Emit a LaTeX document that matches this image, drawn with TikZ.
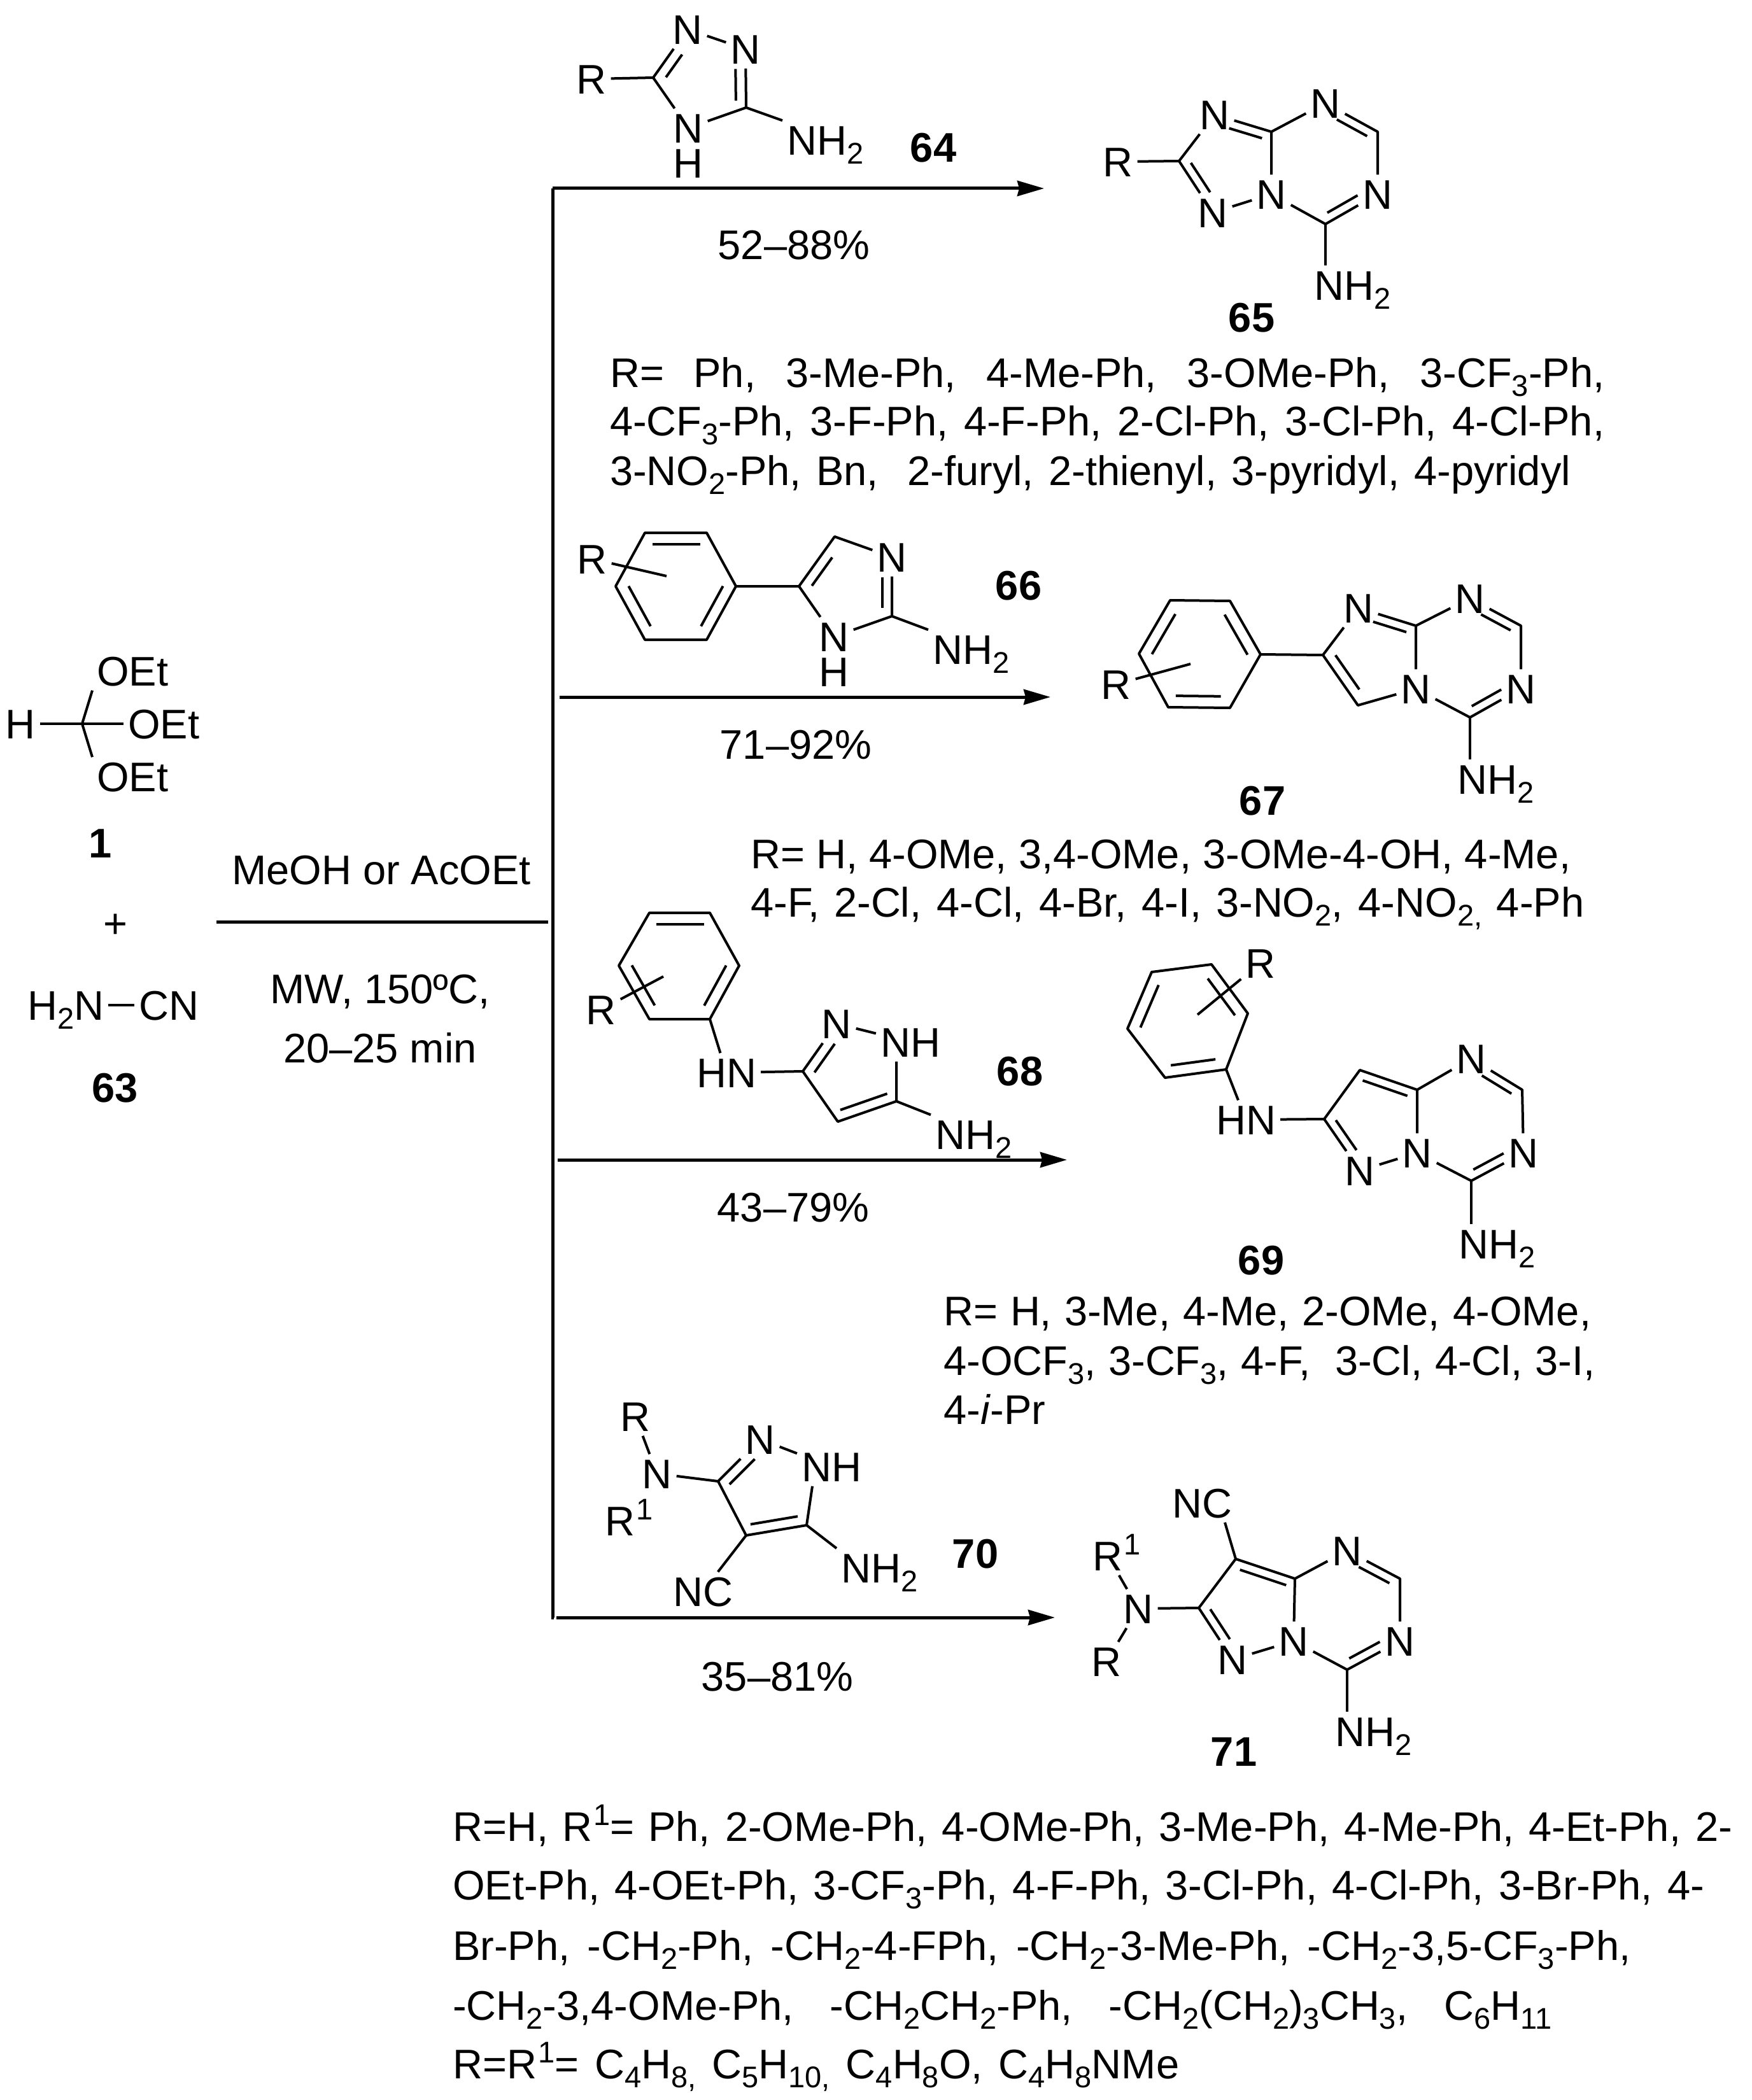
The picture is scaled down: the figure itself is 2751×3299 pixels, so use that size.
\documentclass[tikz,border=0pt]{standalone}
\usepackage{fontspec}
\setmainfont{Liberation Sans}
\usetikzlibrary{calc,arrows.meta}

\newcommand{\low}[1]{\raisebox{-14pt}{\fontsize{47}{47}\selectfont #1}}
\newcommand{\high}[1]{\kern2pt\raisebox{25pt}{\fontsize{47}{47}\selectfont #1}}
\newcommand{\fitline}[2]{\makebox[#1][s]{#2}}
\newcommand{\innerbond}[5]{\draw[bond] ($(#1)!#3!(#2)!#5!90:(#2)$) -- ($(#2)!#4!(#1)!#5!-90:(#1)$);}
\newcommand{\Rone}{R\rlap{\high{1}}}

\tikzset{
  txt/.style={font=\fontsize{65}{78}\selectfont,inner sep=0pt,text height=47pt,text depth=0pt},
  cmpd/.style={txt,font=\fontsize{65}{78}\selectfont\bfseries},
  atom/.style={txt,inner sep=7pt},
  group/.style={atom,anchor=west},
  bond/.style={line width=4pt,line join=round},
  rxn/.style={line width=5pt},
  rxnarrow/.style={rxn,-{Stealth[length=42pt,width=24pt,inset=3pt]}}
}

\begin{document}
\begin{tikzpicture}[x=1pt,y=-1pt]
    \useasboundingbox (0,0) rectangle (2751,3299);

    % reactants
    \coordinate (Ca) at (129,1137);
    \node[atom] (Ha) at (32,1137) {H};
    \node[group] (Oa) at (145,1054) {OEt};
    \node[group] (Ob) at (194,1137) {OEt};
    \node[group] (Oc) at (145,1220) {OEt};
    \draw[bond] (Ha) -- (Ob);
    \draw[bond] (Ca) -- (Oa.south west);
    \draw[bond] (Ca) -- (Oc.north west);
    \node[cmpd] (one) at (158,1324) {1};
    \node[txt] (plus) at (181,1450) {+};
    \node[group] (cya) at (36,1579) {H\low{2}N};
    \node[group] (cyb) at (211,1579) {CN};
    \draw[bond] (cya) -- (cyb);
    \node[cmpd] (sixtythree) at (181,1708) {63};

    % conditions
    \node[txt] (solv) at (599,1366) {MeOH or AcOEt};
    \node[txt] (mw) at (597,1553) {MW, 150ºC,};
    \node[txt] (time) at (597,1646) {20–25 min};
    \coordinate (S) at (340,1448);
    \coordinate (Sa) at (861,1448);
    \draw[rxn] (S) -- (Sa);

    % branch line and arrows
    \coordinate (Ta) at (868,296);
    \coordinate (Tb) at (870,2541);
    \coordinate (Aa) at (1640,296);
    \coordinate (Ba) at (879,1095);
    \coordinate (Bb) at (1650,1095);
    \coordinate (Da) at (876,1822);
    \coordinate (Db) at (1676,1822);
    \coordinate (Ea) at (874,2541);
    \coordinate (Eb) at (1657,2541);
    \draw[rxn] (Tb) -- (Ta |- Tb) -- (Ta);
    \draw[rxnarrow] (Ta) -- (Aa);
    \draw[rxnarrow] (Ba) -- (Bb);
    \draw[rxnarrow] (Da) -- (Db);
    \draw[rxnarrow] (Ea) -- (Eb);
    \node[txt] (ya) at (1247,384) {52–88\%};
    \node[txt] (yb) at (1250,1169) {71–92\%};
    \node[txt] (yc) at (1246,1896) {43–79\%};
    \node[txt] (yd) at (1221,2633) {35–81\%};

    % 64
    \node[atom] (aR) at (929,124) {R};
    \coordinate (aC5) at (1026,122);
    \node[atom] (aN1) at (1080,46) {N};
    \node[atom] (aN2) at (1171,77) {N};
    \coordinate (aC3) at (1172,169);
    \node[atom] (aN4) at (1081,201) {N};
    \node[txt] (aH) at (1081,256) {H};
    \node[group] (aNH) at (1229,220) {NH\low{2}};
    \draw[bond] (aR) -- (aC5) -- (aN1);
    \draw[bond] (aN1) -- (aN2);
    \draw[bond] (aN2) -- (aC3) -- (aN4) -- (aC5);
    \draw[bond] (aC3) -- (aNH.north west);
    \innerbond{aC5}{aN1}{0.13}{0.4}{-16pt}
    \innerbond{aN2}{aC3}{0.34}{0.12}{-16pt}
    \node[cmpd] (sixtyfour) at (1466,231) {64};

    % 65
    \node[atom] (bR) at (1756,254) {R};
    \coordinate (bC2) at (1852,253);
    \node[atom] (bN3) at (1908,180) {N};
    \coordinate (bC8) at (1997,207);
    \node[atom] (bN7) at (2082,162) {N};
    \coordinate (bC6) at (2164,207);
    \node[atom] (bN5) at (2164,305) {N};
    \coordinate (bC4) at (2082,352);
    \node[atom] (bN9) at (1997,305) {N};
    \node[atom] (bN1) at (1905,334) {N};
    \node[group] (bNH) at (2057,448) {NH\low{2}};
    \draw[bond] (bR) -- (bC2) -- (bN3) -- (bC8) -- (bN7) -- (bC6) -- (bN5) -- (bC4) -- (bN9) -- (bC8);
    \draw[bond] (bC2) -- (bN1) -- (bN9);
    \draw[bond] (bC4) -- (bC4 |- bNH.north);
    \innerbond{bC8}{bN3}{0.12}{0.3}{14pt}
    \innerbond{bC6}{bN7}{0.12}{0.3}{14pt}
    \innerbond{bC4}{bN5}{0.12}{0.3}{14pt}
    \innerbond{bC2}{bN1}{0.13}{0.3}{14pt}
    \node[cmpd] (sixtyfive) at (1966,498) {65};
    \node[txt,anchor=west] (la) at (958,585) {\fitline{1562pt}{R= \ Ph, \ 3-Me-Ph, \ 4-Me-Ph, \ 3-OMe-Ph, \ 3-CF\low{3}-Ph,}};
    \node[txt,anchor=west] (lb) at (958,661) {\fitline{1562pt}{4-CF\low{3}-Ph, 3-F-Ph, 4-F-Ph, 2-Cl-Ph, 3-Cl-Ph, 4-Cl-Ph,}};
    \node[txt,anchor=west] (lc) at (958,739) {\fitline{1509pt}{3-NO\low{2}-Ph, Bn, \ 2-furyl, 2-thienyl, 3-pyridyl, 4-pyridyl}};

    % 66
    \coordinate (cA) at (1013,837);
    \coordinate (cB) at (1110,837);
    \coordinate (cC) at (1156,921);
    \coordinate (cD) at (1110,1005);
    \coordinate (cE) at (1013,1005);
    \coordinate (cF) at (967,921);
    \draw[bond] (cA) -- (cB) -- (cC) -- (cD) -- (cE) -- (cF) -- cycle;
    \innerbond{cA}{cB}{0.12}{0.1}{-18pt}
    \innerbond{cC}{cD}{0.1}{0.15}{-18pt}
    \innerbond{cE}{cF}{0.15}{0.1}{-18pt}
    \node[atom] (cR) at (930,878) {R};
    \coordinate (cX) at (1047,905);
    \draw[bond] (cR) -- (cX);
    \coordinate (cC5) at (1255,921);
    \coordinate (cC4) at (1311,843);
    \node[atom] (cN3) at (1401,875) {N};
    \coordinate (cC2) at (1401,968);
    \node[atom] (cN1) at (1310,1000) {N};
    \node[txt] (cH) at (1310,1055) {H};
    \node[group] (cNH) at (1458,1020) {NH\low{2}};
    \draw[bond] (cC) -- (cC5) -- (cC4) -- (cN3) -- (cC2) -- (cN1) -- (cC5);
    \draw[bond] (cC2) -- (cNH.north west);
    \innerbond{cC5}{cC4}{0.13}{0.3}{-16pt}
    \innerbond{cN3}{cC2}{0.34}{0.14}{-15pt}
    \node[cmpd] (sixtysix) at (1600,919) {66};

    % 67
    \coordinate (dA) at (1838,943);
    \coordinate (dB) at (1932,944);
    \coordinate (dC) at (1980,1028);
    \coordinate (dD) at (1932,1112);
    \coordinate (dE) at (1835,1111);
    \coordinate (dF) at (1789,1027);
    \draw[bond] (dA) -- (dB) -- (dC) -- (dD) -- (dE) -- (dF) -- cycle;
    \innerbond{dF}{dA}{0.1}{0.15}{-18pt}
    \innerbond{dB}{dC}{0.15}{0.1}{-18pt}
    \innerbond{dD}{dE}{0.15}{0.12}{-18pt}
    \node[atom] (dR) at (1753,1075) {R};
    \coordinate (dX) at (1870,1043);
    \draw[bond] (dR) -- (dX);
    \coordinate (dC7) at (2078,1029);
    \coordinate (dC6) at (2133,1108);
    \node[atom] (dN9) at (2224,1082) {N};
    \coordinate (dC8) at (2224,983);
    \node[atom] (dN3) at (2134,955) {N};
    \node[atom] (dN7) at (2309,940) {N};
    \coordinate (dC5) at (2389,983);
    \node[atom] (dN4) at (2389,1082) {N};
    \coordinate (dC2) at (2309,1127);
    \node[group] (dNH) at (2282,1224) {NH\low{2}};
    \draw[bond] (dC) -- (dC7) -- (dC6) -- (dN9) -- (dC8) -- (dN3) -- (dC7);
    \draw[bond] (dC8) -- (dN7) -- (dC5) -- (dN4) -- (dC2) -- (dN9);
    \draw[bond] (dC2) -- (dC2 |- dNH.north);
    \innerbond{dC7}{dC6}{0.12}{0.2}{16pt}
    \innerbond{dC8}{dN3}{0.12}{0.3}{14pt}
    \innerbond{dC5}{dN7}{0.12}{0.3}{14pt}
    \innerbond{dC2}{dN4}{0.12}{0.3}{14pt}
    \node[cmpd] (sixtyseven) at (1983,1257) {67};
    \node[txt,anchor=west] (ld) at (1179,1341) {\fitline{1288pt}{R= H, 4-OMe, 3,4-OMe, 3-OMe-4-OH, 4-Me,}};
    \node[txt,anchor=west] (le) at (1179,1417) {\fitline{1309pt}{4-F, 2-Cl, 4-Cl, 4-Br, 4-I, 3-NO\low{2}, 4-NO\low{2,} 4-Ph}};

    % 68
    \coordinate (eA) at (1020,1434);
    \coordinate (eB) at (1115,1434);
    \coordinate (eC) at (1161,1517);
    \coordinate (eD) at (1115,1601);
    \coordinate (eE) at (1020,1601);
    \coordinate (eF) at (972,1517);
    \draw[bond] (eA) -- (eB) -- (eC) -- (eD) -- (eE) -- (eF) -- cycle;
    \innerbond{eA}{eB}{0.12}{0.1}{-18pt}
    \innerbond{eC}{eD}{0.1}{0.15}{-18pt}
    \innerbond{eE}{eF}{0.15}{0.1}{-18pt}
    \node[atom] (eR) at (944,1586) {R};
    \coordinate (eX) at (1042,1534);
    \draw[bond] (eR) -- (eX);
    \node[atom] (eHN) at (1141,1685) {HN};
    \coordinate (eC3) at (1261,1683);
    \node[atom] (eN2) at (1314,1608) {N};
    \node[atom] (eN1) at (1430,1637) {NH};
    \coordinate (eC5) at (1408,1730);
    \coordinate (eC4) at (1316,1762);
    \node[group] (eNH) at (1462,1782) {NH\low{2}};
    \draw[bond] (eD) -- (eHN) -- (eC3) -- (eN2) -- (eN1);
    \draw[bond] (eN1.south -| eC5) -- (eC5) -- (eC4) -- (eC3);
    \draw[bond] (eC5) -- (eNH.north west);
    \innerbond{eC3}{eN2}{0.1}{0.3}{-16pt}
    \innerbond{eC5}{eC4}{0.1}{0.1}{-16pt}
    \node[cmpd] (sixtyeight) at (1602,1682) {68};

    % 69
    \coordinate (fA) at (1809,1527);
    \coordinate (fB) at (1903,1515);
    \coordinate (fC) at (1960,1592);
    \coordinate (fD) at (1926,1680);
    \coordinate (fE) at (1830,1693);
    \coordinate (fF) at (1771,1616);
    \draw[bond] (fA) -- (fB) -- (fC) -- (fD) -- (fE) -- (fF) -- cycle;
    \innerbond{fF}{fA}{0.1}{0.15}{-18pt}
    \innerbond{fB}{fC}{0.15}{0.1}{-18pt}
    \innerbond{fD}{fE}{0.15}{0.12}{-18pt}
    \node[atom] (fR) at (1980,1513) {R};
    \coordinate (fX) at (1881,1594);
    \draw[bond] (fR) -- (fX);
    \node[atom] (fHN) at (1957,1759) {HN};
    \coordinate (fC7) at (2080,1758);
    \coordinate (fC6) at (2136,1681);
    \coordinate (fC5) at (2226,1712);
    \node[atom] (fN4) at (2311,1663) {N};
    \coordinate (fC3) at (2391,1712);
    \node[atom] (fN2) at (2393,1811) {N};
    \coordinate (fC1) at (2311,1855);
    \node[atom] (fN9) at (2226,1811) {N};
    \node[atom] (fN8) at (2136,1839) {N};
    \node[group] (fNH) at (2284,1954) {NH\low{2}};
    \draw[bond] (fD) -- (fHN) -- (fC7) -- (fC6) -- (fC5) -- (fN4) -- (fC3) -- (fN2) -- (fC1) -- (fN9) -- (fC5);
    \draw[bond] (fC7) -- (fN8) -- (fN9);
    \draw[bond] (fC1) -- (fC1 |- fNH.north);
    \innerbond{fC7}{fN8}{0.12}{0.3}{14pt}
    \innerbond{fC6}{fC5}{0.1}{0.12}{-14pt}
    \innerbond{fC3}{fN4}{0.12}{0.3}{14pt}
    \innerbond{fC1}{fN2}{0.12}{0.3}{14pt}
    \node[cmpd] (sixtynine) at (1981,1979) {69};
    \node[txt,anchor=west] (lf) at (1482,2059) {\fitline{1017pt}{R= H, 3-Me, 4-Me, 2-OMe, 4-OMe,}};
    \node[txt,anchor=west] (lg) at (1482,2137) {\fitline{1023pt}{4-OCF\low{3}, 3-CF\low{3}, 4-F, \ 3-Cl, 4-Cl, 3-I,}};
    \node[txt,anchor=west] (lh) at (1482,2214) {4-\textit{i}-Pr};

    % 70
    \node[atom] (gR) at (998,2225) {R};
    \node[atom] (gN) at (1032,2315) {N};
    \node[atom] (gRa) at (974,2389) {\Rone};
    \coordinate (gC3) at (1128,2327);
    \node[atom] (gN2) at (1194,2261) {N};
    \node[atom] (gN1) at (1306,2304) {NH};
    \coordinate (gC5) at (1267,2396);
    \coordinate (gC4) at (1172,2412);
    \node[atom] (gCN) at (1104,2500) {NC};
    \node[group] (gNH) at (1314,2463) {NH\low{2}};
    \draw[bond] (gR) -- (gN) -- (gC3) -- (gN2) -- (gN1);
    \draw[bond] ($(gN1.south)+(-30,0)$) -- (gC5) -- (gC4) -- (gC3);
    \draw[bond] (gC4) -- (gCN);
    \draw[bond] (gC5) -- (gNH.north west);
    \innerbond{gC3}{gN2}{0.1}{0.3}{-16pt}
    \innerbond{gC5}{gC4}{0.12}{0.1}{-16pt}
    \node[cmpd] (seventy) at (1532,2440) {70};

    % 71
    \node[atom] (hCN) at (1888,2361) {NC};
    \coordinate (hC8) at (1941,2449);
    \coordinate (hC9) at (2034,2480);
    \node[atom] (hN4) at (2116,2436) {N};
    \coordinate (hC3) at (2199,2480);
    \node[atom] (hN2) at (2199,2578) {N};
    \coordinate (hC1) at (2116,2623);
    \node[atom] (hN5) at (2032,2578) {N};
    \node[atom] (hN6) at (1936,2607) {N};
    \coordinate (hC7) at (1883,2526);
    \node[atom] (hN) at (1788,2527) {N};
    \node[atom] (hRa) at (1740,2444) {\Rone};
    \node[atom] (hR) at (1738,2610) {R};
    \node[group] (hNH) at (2090,2720) {NH\low{2}};
    \draw[bond] ($(hCN.south)+(36,0)$) -- (hC8) -- (hC9) -- (hN4) -- (hC3) -- (hN2) -- (hC1) -- (hN5) -- (hC9);
    \draw[bond] (hC8) -- (hC7) -- (hN6) -- (hN5);
    \draw[bond] (hRa) -- (hN) -- (hC7);
    \draw[bond] (hN) -- (hR);
    \draw[bond] (hC1) -- (hC1 |- hNH.north);
    \innerbond{hC8}{hC9}{0.12}{0.1}{-14pt}
    \innerbond{hC3}{hN4}{0.12}{0.3}{14pt}
    \innerbond{hC1}{hN2}{0.12}{0.3}{14pt}
    \innerbond{hC7}{hN6}{0.12}{0.3}{14pt}
    \node[cmpd] (seventyone) at (1938,2751) {71};

    % list under 71
    \node[txt,anchor=west] (li) at (711,2869) {\fitline{2010pt}{R=H, R\high{1}= Ph, 2-OMe-Ph, 4-OMe-Ph, 3-Me-Ph, 4-Me-Ph, 4-Et-Ph, 2-}};
    \node[txt,anchor=west] (lj) at (711,2961) {\fitline{1966pt}{OEt-Ph, 4-OEt-Ph, 3-CF\low{3}-Ph, 4-F-Ph, 3-Cl-Ph, 4-Cl-Ph, 3-Br-Ph, 4-}};
    \node[txt,anchor=west] (lk) at (711,3056) {\fitline{1850pt}{Br-Ph, -CH\low{2}-Ph, -CH\low{2}-4-FPh, -CH\low{2}-3-Me-Ph, -CH\low{2}-3,5-CF\low{3}-Ph,}};
    \node[txt,anchor=west] (ll) at (711,3150) {\fitline{1726pt}{-CH\low{2}-3,4-OMe-Ph, -CH\low{2}CH\low{2}-Ph, -CH\low{2}(CH\low{2})\low{3}CH\low{3}, C\low{6}H\low{11}}};
    \node[txt,anchor=west] (lm) at (711,3242) {\fitline{1141pt}{R=R\high{1}= C\low{4}H\low{8,} C\low{5}H\low{10,} C\low{4}H\low{8}O, C\low{4}H\low{8}NMe}};
  \end{tikzpicture}
\end{document}
